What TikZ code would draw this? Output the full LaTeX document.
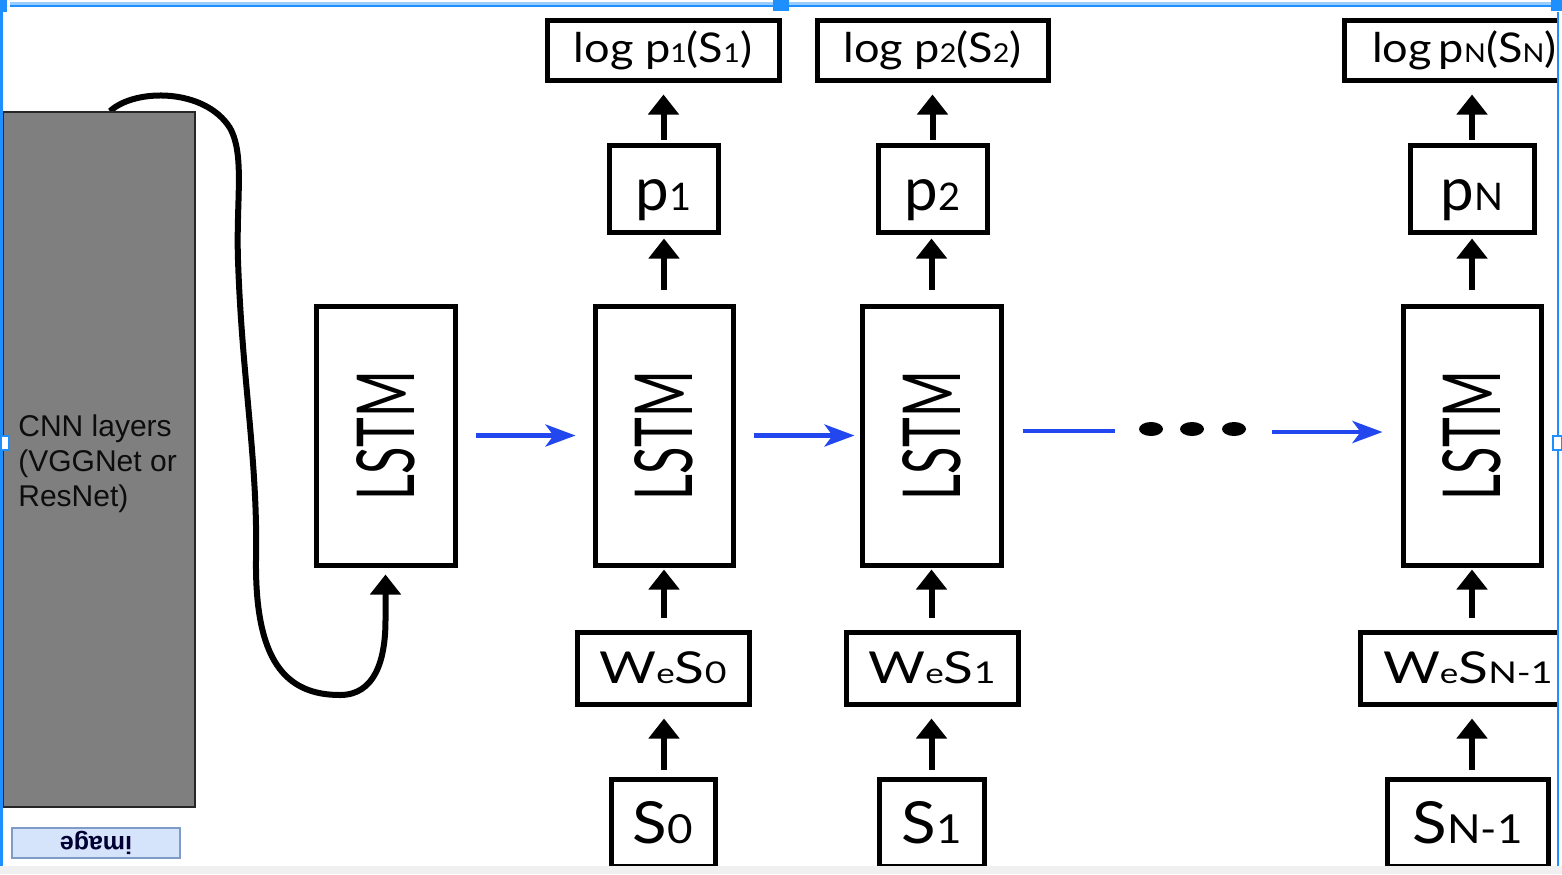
\documentclass[tikz,border=0pt]{standalone}
\usepackage{fontspec}
\setmainfont{Lato}
\newfontfamily\arialf{Liberation Sans}
\usetikzlibrary{arrows.meta,shapes.geometric}
\newcommand{\fs}[2]{{\fontsize{#1}{#1}\selectfont #2}}
\newcommand{\wide}[1]{\scalebox{1.1}[1.0]{#1}}
\newcommand{\wwide}[1]{\scalebox{1.25}[1.0]{#1}}
\definecolor{selblue}{HTML}{1E8FFF}
\definecolor{sellight}{HTML}{99CCFF}
\definecolor{arrblue}{HTML}{2347EE}
\definecolor{cnngray}{HTML}{7F7F7F}
\definecolor{btnfill}{HTML}{D6E4FB}
\definecolor{btndraw}{HTML}{7F9CC8}
\pgfdeclarelayer{bg}
\pgfsetlayers{bg,main}
\begin{document}
\begin{tikzpicture}[x=0.5pt,y=-0.5pt,
  box/.style={draw,line width=2.5pt,fill=white,inner sep=0pt},
  pbox/.style={box,minimum height=43.5pt,text height=21.5pt,text depth=0pt},
  up/.style={-{Triangle[length=10pt,width=15pt]},line width=3pt},
  barr/.style={-{Stealth[length=15pt,width=11pt,inset=4pt]},line width=2.2pt,arrblue},
  dot/.style={ellipse,fill=black,inner sep=0pt,minimum width=12pt,minimum height=7pt}]
\useasboundingbox (0,0) rectangle (1562,874);
\begin{pgfonlayer}{bg}
\fill[white] (0,0) rectangle (1562,874);
\end{pgfonlayer}
\begin{scope}
\clip (2.5,7) rectangle (1557,866);
% CNN box
\node[draw=black!85,line width=0.8pt,fill=cnngray,minimum width=96pt,minimum height=347.5pt,inner sep=0pt] (cnn) at (99,459.5) {};
\node[anchor=west,align=left,inner sep=0pt,text=black!95] (cnntxt) at (18,464) {\arialf\fs{15pt}{CNN layers}\\[2.5pt]\arialf\fs{15pt}{(VGGNet or}\\[2.5pt]\arialf\fs{15pt}{ResNet)}};
% image button
\node[draw=btndraw,line width=1pt,fill=btnfill,minimum width=84pt,minimum height=15pt,inner sep=0pt,rotate=180,text=black!80!blue] (img) at (96,843) {\arialf\bfseries\fs{12.5pt}{image}};
% LSTM boxes
\node[box,minimum width=69.5pt,minimum height=129.5pt] (l0) at (385.5,435.5) {\rotatebox{90}{\fs{40pt}{\scalebox{0.63}[1]{LSTM}}}};
\node[box,minimum width=69pt,minimum height=129.5pt] (l1) at (664,435.5) {\rotatebox{90}{\fs{40pt}{\scalebox{0.63}[1]{LSTM}}}};
\node[box,minimum width=69.5pt,minimum height=129.5pt] (l2) at (931.5,435.5) {\rotatebox{90}{\fs{40pt}{\scalebox{0.63}[1]{LSTM}}}};
\node[box,minimum width=69pt,minimum height=129.5pt] (l3) at (1472,435.5) {\rotatebox{90}{\fs{40pt}{\scalebox{0.63}[1]{LSTM}}}};
% log boxes
\node[box,minimum width=116pt,minimum height=30pt] (g1) at (663,50) {\wide{\fs{20.5pt}{log p\fs{13pt}{1}(S\fs{13pt}{1})}}};
\node[box,minimum width=115.5pt,minimum height=30pt] (g2) at (932.5,50) {\wide{\fs{20.5pt}{log p\fs{13pt}{2}(S\fs{13pt}{2})}}};
\node[box,minimum width=116pt,minimum height=30pt,text width=88pt] (g3) at (1460,50) {\mbox{\wide{\fs{20.5pt}{log p\fs{13pt}{N}(S\fs{13pt}{N})}}}};
% p boxes
\node[pbox,minimum width=54.5pt] (p1) at (663.5,188.5) {\fs{30pt}{p\fs{19pt}{1}}};
\node[pbox,minimum width=54.5pt] (p2) at (932.5,188.5) {\fs{30pt}{p\fs{19pt}{2}}};
\node[pbox,minimum width=62pt] (p3) at (1472,188.5) {\fs{30pt}{p\fs{19pt}{N}}};
% We boxes
\node[box,minimum width=86pt,minimum height=36pt] (w1) at (663,668) {\wwide{\fs{22pt}{W\fs{14pt}{e}S\fs{15pt}{0}}}};
\node[box,minimum width=86pt,minimum height=36pt] (w2) at (932,668) {\wwide{\fs{22pt}{W\fs{14pt}{e}S\fs{15pt}{1}}}};
\node[box,minimum width=110pt,minimum height=36pt,text width=87pt] (w3) at (1470,668) {\mbox{\wwide{\fs{22pt}{W\fs{14pt}{e}S\fs{15pt}{N-1}}}}};
% S boxes
\node[box,minimum width=52pt,minimum height=43.5pt] (s1) at (663,822.5) {\wide{\fs{29pt}{S\fs{20pt}{0}}}};
\node[box,minimum width=52.5pt,minimum height=43.5pt] (s2) at (931.5,822.5) {\wide{\fs{29pt}{S\fs{20pt}{1}}}};
\node[box,minimum width=80.5pt,minimum height=43.5pt] (s3) at (1467.5,822.5) {\wide{\fs{29pt}{S\fs{20pt}{N-1}}}};
% dots
\node[dot] (d1) at (1151,429) {};
\node[dot] (d2) at (1192,429) {};
\node[dot] (d3) at (1234,429) {};
% curve from CNN to first LSTM
\begin{pgfonlayer}{bg}
\draw[up] ([xshift=5.5pt]cnn.north) .. controls (135,88) and (205,88) .. (230,128) .. controls (245,155) and (236,200) .. (238,260) .. controls (242,380) and (258,460) .. (256,560) .. controls (255,660) and (285,695) .. (340,695) .. controls (375,695) and (385.5,660) .. (385.5,620) -- ([yshift=-3.5pt]l0.south);
\end{pgfonlayer}
% vertical arrows
\foreach \c in {1,2,3}{
  \draw[up,shorten <=1.5pt,shorten >=6pt] (p\c.north) -- (p\c.north |- g\c.south);
  \draw[up,shorten <=7pt,shorten >=2pt] (l\c.north) -- (l\c.north |- p\c.south);
  \draw[up,shorten <=6pt,shorten >=1pt] (w\c.north -| l\c.south) -- (l\c.south);
  \draw[up,shorten <=3.5pt,shorten >=6pt] (s\c.north -| l\c.south) -- (l\c.south |- w\c.south);
}
% blue arrows
\draw[barr,shorten <=9pt,shorten >=8.5pt] (l0.east) -- (l1.west);
\draw[barr,shorten <=9pt,shorten >=2.5pt] (l1.east) -- (l2.west);
\draw[line width=2.2pt,arrblue,shorten <=9.5pt,shorten >=12pt] ([yshift=2.25pt]l2.east) -- ([yshift=2.25pt]l2.east -| d1.west);
\draw[barr,shorten <=13pt,shorten >=9pt] ([yshift=-1.5pt]d3.east) -- ([yshift=-1.5pt]d3.east -| l3.west);
\end{scope}
% selection frame
\fill[gray!12] (0,866) rectangle (1562,874);
\fill[sellight] (10,1.5) rectangle (1552,4.5);
\fill[selblue] (10,4.5) rectangle (1552,6.5);
\fill[selblue] (0,12) rectangle (2.5,866);
\fill[selblue] (1556.5,12) rectangle (1559,866);
\fill[selblue] (0,0) rectangle (7,12);
\fill[selblue] (773,0) rectangle (789,11);
\fill[selblue] (1551,0) rectangle (1562,11);
\filldraw[fill=white,draw=selblue,line width=1pt] (0.5,436) rectangle (9,450);
\filldraw[fill=white,draw=selblue,line width=1pt] (1553,436) rectangle (1561.5,450);
\end{tikzpicture}
\end{document}
